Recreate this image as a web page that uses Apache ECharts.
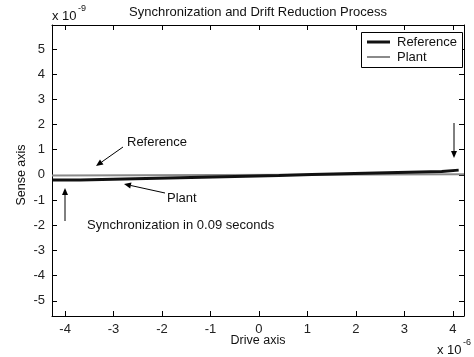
<!DOCTYPE html>
<html><head><meta charset="utf-8">
<script src="https://cdn.jsdelivr.net/npm/echarts@6/dist/echarts.min.js"></script>
<style>html,body{margin:0;padding:0;background:#fff}#c{width:474px;height:357px}</style>
</head><body><div id="c"></div>
<script>
const xTicks = [-4, -3, -2, -1, 0, 1, 2, 3, 4];
const yTicks = [-5, -4, -3, -2, -1, 0, 1, 2, 3, 4, 5];
const legendNames = ['Reference', 'Plant'];
const refX = [-4.25, -3.69, -3.01, -2.33, -1.63, -0.95, -0.27, 0.41, 1.09, 1.75, 2.41, 3.09, 3.77, 4.12];
const refY = [-0.2, -0.17, -0.14, -0.11, -0.08, -0.05, -0.02, 0.02, 0.05, 0.08, 0.11, 0.14, 0.19, 0.19];
const plantX = [-4.27, 4.23];
const plantY = [-0.02, 0.03];
const F = 'Liberation Sans, Arial, sans-serif';

const chart = echarts.init(document.getElementById('c'));
const axisCommon = {
  axisLine: {show: true, onZero: false, lineStyle: {color: '#000', width: 1}},
  axisTick: {show: true, inside: true, length: 5, lineStyle: {color: '#000'}},
  splitLine: {show: false}
};
function xa(pos, showLabel) {
  return Object.assign({}, axisCommon, {
    type: 'value', position: pos, min: -4.27, max: 4.23,
    axisTick: Object.assign({}, axisCommon.axisTick, {customValues: xTicks}),
    axisLabel: {show: showLabel, customValues: xTicks, color: '#222', fontFamily: F, fontSize: 13, margin: 7}
  });
}
function ya(pos, showLabel) {
  return Object.assign({}, axisCommon, {
    type: 'value', position: pos, min: -5.6, max: 5.95,
    axisTick: Object.assign({}, axisCommon.axisTick, {customValues: yTicks}),
    axisLabel: {show: showLabel, customValues: yTicks, color: '#222', fontFamily: F, fontSize: 13, margin: 7}
  });
}
function arrow(x1, y1, x2, y2) {
  const a = Math.atan2(y2 - y1, x2 - x1), L = 7, W = 3;
  const bx = x2 - L * Math.cos(a), by = y2 - L * Math.sin(a);
  const px = -Math.sin(a) * W, py = Math.cos(a) * W;
  return [
    {type: 'line', shape: {x1: x1, y1: y1, x2: bx, y2: by}, style: {stroke: '#000', lineWidth: 1}},
    {type: 'polygon', shape: {points: [[x2, y2], [bx + px, by + py], [bx - px, by - py]]}, style: {fill: '#000'}}
  ];
}
const txt = (x, y, s, extra) => ({type: 'text', x: x, y: y, z: 10, style: Object.assign({text: s, font: '12.5px ' + F, fill: '#111', textVerticalAlign: 'middle'}, extra || {})});

chart.setOption({
  animation: false,
  backgroundColor: '#fff',
  grid: {left: 52, top: 25, right: 10, bottom: 41, containLabel: false},
  xAxis: [xa('bottom', true), xa('top', false)],
  yAxis: [ya('left', true), ya('right', false)],
  series: [
    {name: legendNames[1], type: 'line', symbol: 'none', xAxisIndex: 0, yAxisIndex: 0,
     lineStyle: {color: '#8a8a8a', width: 2}, itemStyle: {color: '#8a8a8a'},
     data: plantX.map((x, i) => [x, plantY[i]]), z: 2},
    {name: legendNames[0], type: 'line', symbol: 'none', step: 'end', xAxisIndex: 0, yAxisIndex: 0,
     lineStyle: {color: '#111', width: 3}, itemStyle: {color: '#111'},
     data: refX.map((x, i) => [x, refY[i]]), z: 3}
  ],
  graphic: [].concat(
    [
      txt(258, 12, 'Synchronization and Drift Reduction Process', {textAlign: 'center', font: '13px ' + F}),
      txt(52, 16, 'x 10', {font: '13px ' + F}),
      txt(78, 9, '-9', {font: '9px ' + F}),
      txt(437, 350, 'x 10', {font: '13px ' + F}),
      txt(463, 343, '-6', {font: '9px ' + F}),
      txt(258, 341, 'Drive axis', {textAlign: 'center'}),
      {type: 'text', x: 22, y: 175, rotation: Math.PI / 2, style: {text: 'Sense axis', font: '12.5px ' + F, fill: '#111', textAlign: 'center', textVerticalAlign: 'middle'}},
      txt(127, 142, 'Reference', {font: '13px ' + F}),
      txt(167, 198, 'Plant', {font: '13px ' + F}),
      txt(87, 225, 'Synchronization in 0.09 seconds', {font: '13px ' + F}),
      {type: 'rect', z: 9, shape: {x: 361.5, y: 32.5, width: 101, height: 35}, style: {fill: '#fff', stroke: '#000', lineWidth: 1}},
      {type: 'line', z: 10, shape: {x1: 367, y1: 42, x2: 390, y2: 42}, style: {stroke: '#111', lineWidth: 3}},
      {type: 'line', z: 10, shape: {x1: 367, y1: 57, x2: 390, y2: 57}, style: {stroke: '#8a8a8a', lineWidth: 2}},
      txt(397, 42, legendNames[0], {font: '13px ' + F}),
      txt(397, 57, legendNames[1], {font: '13px ' + F})
    ],
    arrow(123, 147, 96, 166),
    arrow(165, 193, 124, 184),
    arrow(65, 221, 65, 188),
    arrow(454, 123, 454, 158)
  )
});
</script></body></html>
